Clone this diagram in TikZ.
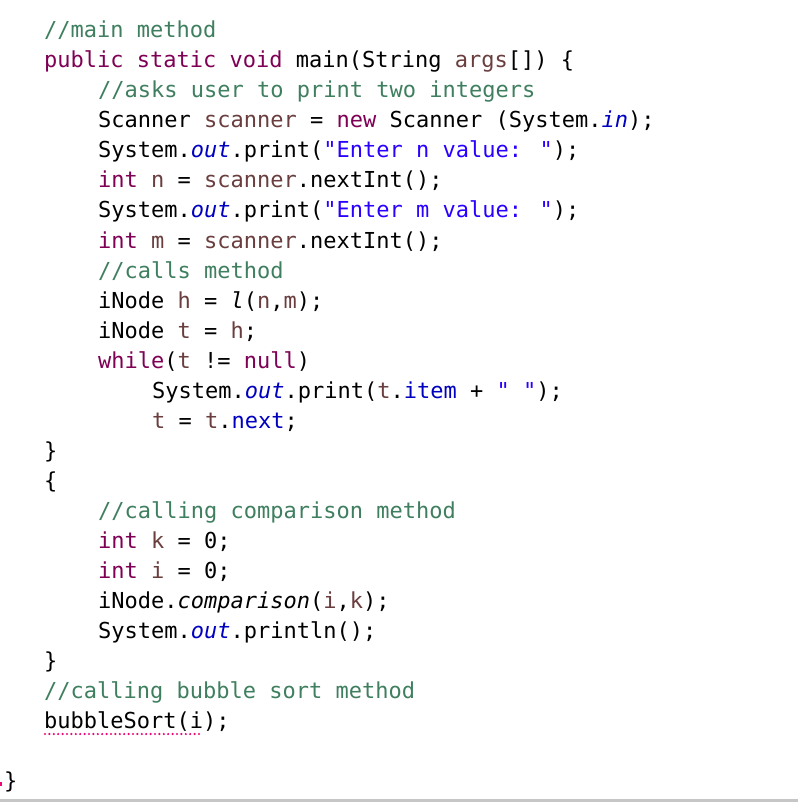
\documentclass[tikz,border=0pt]{standalone}
\usepackage{fontspec}
\newfontfamily\code{DejaVu Sans Mono}
\definecolor{kwc}{HTML}{7F0055}
\definecolor{cmc}{HTML}{3F7F5F}
\definecolor{stc}{HTML}{2A00FF}
\definecolor{flc}{HTML}{0000C0}
\definecolor{lvc}{HTML}{6A3E3E}
\newcommand{\kw}[1]{\textcolor{kwc}{#1}}
\newcommand{\cm}[1]{\textcolor{cmc}{#1}}
\newcommand{\stt}[1]{\textcolor{stc}{#1}}
\newcommand{\fl}[1]{\textcolor{flc}{#1}}
\newcommand{\fli}[1]{\textcolor{flc}{\itshape #1}}
\newcommand{\lv}[1]{\textcolor{lvc}{#1}}
\begin{document}
\begin{tikzpicture}[x=1pt,y=1pt,
  ln/.style={anchor=base west,inner sep=0pt,font=\code\fontsize{22}{22}\selectfont}]
\fill[white] (0,0) rectangle (798,-802);
\useasboundingbox (0,0) rectangle (798,-802);
\def\A{44}\def\B{98}\def\C{152}
\node[ln] (l0) at (\A,-38) {\cm{//main method}};
\node[ln] (l1) at (\A,-68) {\kw{public static void} main(String \lv{args}[]) \{};
\node[ln] (l2) at (\B,-98) {\cm{//asks user to print two integers}};
\node[ln] (l3) at (\B,-128) {Scanner \lv{scanner} = \kw{new} Scanner (System.\fli{in});};
\node[ln] (l4) at (\B,-158) {System.\fli{out}.print(\stt{"Enter n value: "});};
\node[ln] (l5) at (\B,-188) {\kw{int} \lv{n} = \lv{scanner}.nextInt();};
\node[ln] (l6) at (\B,-218) {System.\fli{out}.print(\stt{"Enter m value: "});};
\node[ln] (l7) at (\B,-248) {\kw{int} \lv{m} = \lv{scanner}.nextInt();};
\node[ln] (l8) at (\B,-278) {\cm{//calls method}};
\node[ln] (l9) at (\B,-308) {iNode \lv{h} = {\itshape l}(\lv{n},\lv{m});};
\node[ln] (l10) at (\B,-338) {iNode \lv{t} = \lv{h};};
\node[ln] (l11) at (\B,-368) {\kw{while}(\lv{t} != \kw{null})};
\node[ln] (l12) at (\C,-398) {System.\fli{out}.print(\lv{t}.\fl{item} + \stt{" "});};
\node[ln] (l13) at (\C,-428) {\lv{t} = \lv{t}.\fl{next};};
\node[ln] (l14) at (\A,-458) {\}};
\node[ln] (l15) at (\A,-488) {\{};
\node[ln] (l16) at (\B,-518) {\cm{//calling comparison method}};
\node[ln] (l17) at (\B,-548) {\kw{int} \lv{k} = 0;};
\node[ln] (l18) at (\B,-578) {\kw{int} \lv{i} = 0;};
\node[ln] (l19) at (\B,-608) {iNode.{\itshape comparison}(\lv{i},\lv{k});};
\node[ln] (l20) at (\B,-638) {System.\fli{out}.println();};
\node[ln] (l21) at (\A,-668) {\}};
\node[ln] (l22) at (\A,-698) {\cm{//calling bubble sort method}};
\node[ln] (l23) at (\A,-728) {bubbleSort(i);};
\node[ln] (l25) at (4,-788) {\}};
\draw[magenta!80!red,line width=2.4pt,line cap=round,dash pattern=on 0pt off 4.4pt] (45,-734) -- (199,-734);
\fill[magenta!80!red] (0,-782) rectangle (2,-786);
\fill[gray!45] (0,-799) rectangle (798,-802);
\end{tikzpicture}
\end{document}
